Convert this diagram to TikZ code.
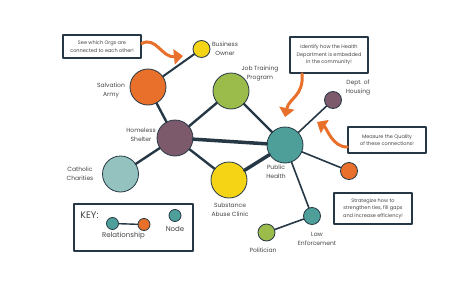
\documentclass[tikz,border=0pt]{standalone}
\usepackage{fontspec}
\setmainfont{Poppins}
\usetikzlibrary{arrows.meta}
\definecolor{orgC}{HTML}{E8702A}
\definecolor{tealC}{HTML}{4E9F9A}
\definecolor{paleC}{HTML}{93C2BF}
\definecolor{plumC}{HTML}{7D5A6B}
\definecolor{sunC}{HTML}{F5D416}
\definecolor{leafC}{HTML}{9BBB4A}
\definecolor{edgeC}{HTML}{263845}
\definecolor{txtC}{HTML}{454545}
\begin{document}
\begin{tikzpicture}[x=1pt,y=-1pt,line join=round,line cap=round,font=\fontsize{6}{9}\selectfont,
	org/.style={circle,draw=edgeC,line width=.8pt,inner sep=0pt,minimum size=36pt},
	small/.style={org,minimum size=17pt},
	keydot/.style={org,fill=tealC,minimum size=12pt},
	lbl/.style={align=center,text=txtC},
	tie/.style={draw=edgeC,line width=2.4pt},
	note/.style={draw=edgeC,line width=1.5pt,fill=white,align=center,text=txtC,minimum width=78pt,inner sep=0pt,font=\fontsize{5}{7.5}\selectfont},
	hint/.style={draw=orgC,line width=3pt,-{Triangle[length=9pt,width=15pt]}}]
	\useasboundingbox[fill=white] (0,0) rectangle (474,284);
	\node[small,fill=sunC] (bus) at (201.5,49) {};
	\node[org,fill=orgC] (salv) at (148,87) {};
	\node[org,fill=leafC] (job) at (231,91) {};
	\node[org,fill=plumC] (shel) at (175,138) {};
	\node[org,fill=paleC] (cath) at (120.5,174) {};
	\node[org,fill=sunC] (subs) at (229,180) {};
	\node[org,fill=tealC] (ph) at (285,145) {};
	\node[small,fill=plumC] (dept) at (333,100) {};
	\node[small,fill=orgC] (orng) at (349,171) {};
	\node[small,fill=tealC] (law) at (312,216) {};
	\node[small,fill=leafC] (pol) at (266.5,232.5) {};
	\draw[tie,line width=2pt] (bus) -- (salv);
	\draw[tie] (salv) -- (shel);
	\draw[tie] (shel) -- (job);
	\draw[tie] (shel) -- (cath);
	\draw[tie] (shel) -- (subs);
	\draw[tie,line width=3.5pt] (shel) -- (ph);
	\draw[tie] (job) -- (ph);
	\draw[tie,line width=3.5pt] (subs) -- (ph);
	\draw[tie,line width=1.6pt] (ph) -- (dept);
	\draw[tie,line width=1.6pt] (ph) -- (orng);
	\draw[tie,line width=1.6pt] (ph) -- (law);
	\draw[tie,line width=1.6pt] (law) -- (pol);
	\node[lbl] (lbus) at (225,48.5) {Business\\Owner};
	\node[lbl] (lsalv) at (111,90) {Salvation\\Army};
	\node[lbl] (ljob) at (260,73.5) {Job Training\\Program};
	\node[lbl] (lshel) at (141,135) {Homeless\\Shelter};
	\node[lbl] (lcath) at (80,174) {Catholic\\Charities};
	\node[lbl] (lsubs) at (230,210) {Substance\\Abuse Clinic};
	\node[lbl] (lph) at (276,172) {Public\\Health};
	\node[lbl] (ldept) at (358,87.5) {Dept. of\\Housing};
	\node[lbl] (llaw) at (317,238.5) {Law\\Enforcement};
	\node[lbl] (lpol) at (263,250) {Politician};
	\node[note,minimum height=23pt] (note1) at (102,46.5) {See which Orgs are\\connected to each other!};
	\node[note,minimum height=36pt] (note2) at (329,55) {Identify how the Health\\Department is embedded\\in the community!};
	\node[note,minimum height=26pt] (note3) at (387,140) {Measure the Quality\\of these connections!};
	\node[note,minimum height=31pt] (note4) at (373,208.5) {Strategize how to\\strengthen ties, fill gaps\\and increase efficiency!};
	\coordinate (tip1) at (183,56);
	\coordinate (tip2) at (285,117);
	\coordinate (tip3) at (317,122);
	\draw[hint] ([yshift=3pt]note1.east) .. controls (156,36) and (162,58) .. (tip1);
	\draw[hint] ([xshift=-27pt]note2.south) .. controls (304,96) and (289,98) .. (tip2);
	\draw[hint] ([yshift=-7pt]note3.west) .. controls (332,147) and (327,128) .. (tip3);
	\node[draw=edgeC,line width=1.5pt,minimum width=119pt,minimum height=47pt] (key) at (133.5,227.5) {};
	\node[text=txtC,font=\fontsize{9.5}{11}\selectfont] (keyhead) at (89.5,215) {KEY:};
	\node[keydot] (ka) at (112.5,223.5) {};
	\node[keydot,fill=orgC] (kb) at (144,224.5) {};
	\node[keydot] (kn) at (175,215.5) {};
	\draw[tie,line width=1.4pt] (ka) -- (kb);
	\node[lbl,font=\fontsize{7}{8}\selectfont] (krel) at (123.5,236) {Relationship};
	\node[lbl,font=\fontsize{7}{8}\selectfont] (knode) at (175,229) {Node};
\end{tikzpicture}
\end{document}
